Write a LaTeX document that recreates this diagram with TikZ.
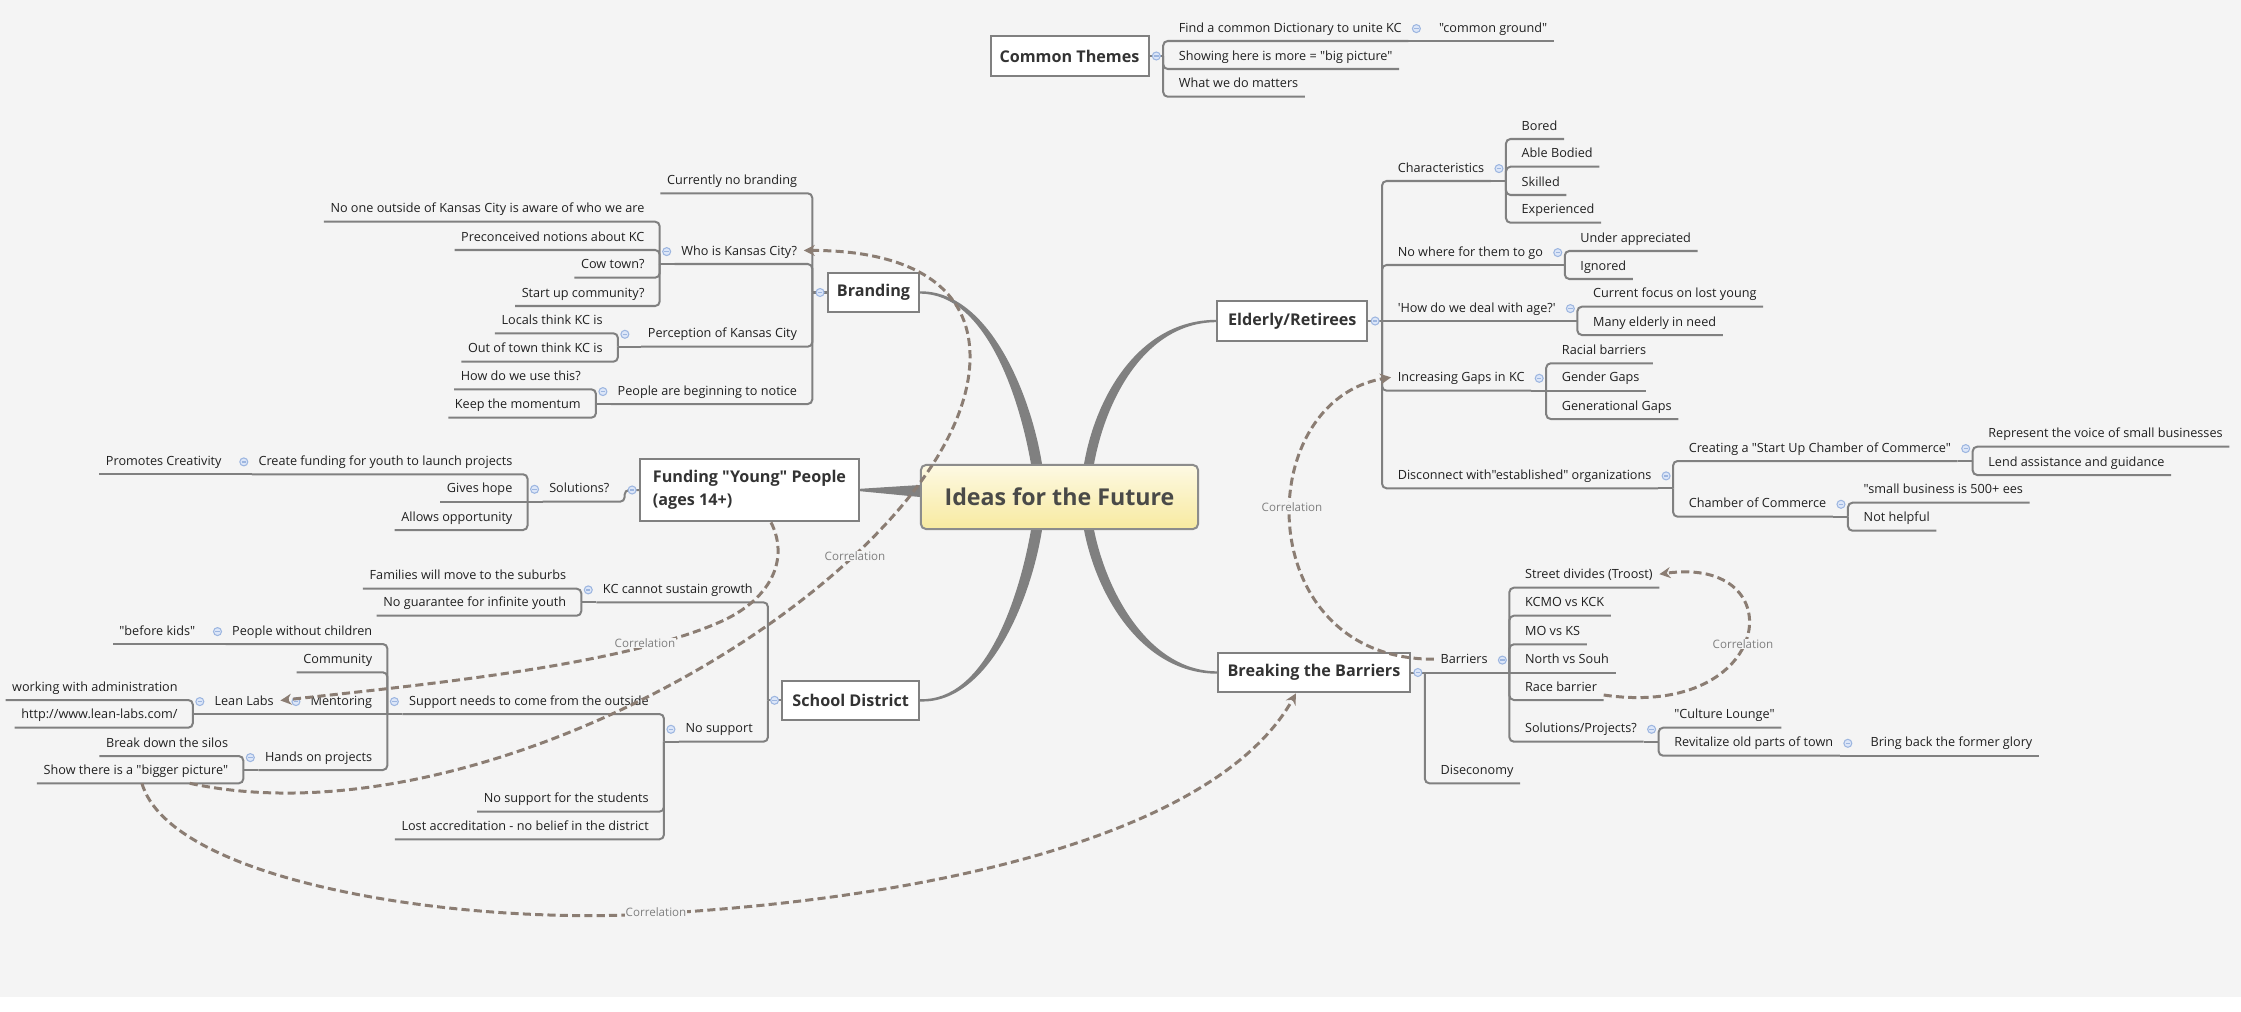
\documentclass[tikz,border=0pt]{standalone}
\usepackage{fontspec}
\newfontfamily\mapfont{Open Sans}
\usetikzlibrary{arrows.meta,backgrounds}

\definecolor{bg}{HTML}{F4F4F4}
\definecolor{linegray}{HTML}{808080}
\definecolor{ink}{HTML}{202020}
\definecolor{boxtext}{HTML}{333333}
\definecolor{relbrown}{HTML}{8B7D73}
\definecolor{labelgray}{HTML}{808080}
\definecolor{foldfill}{HTML}{DCE6F8}
\definecolor{foldline}{HTML}{9DB6E0}
\definecolor{ideatop}{HTML}{FDF9E3}
\definecolor{ideabot}{HTML}{F8EAA0}
\definecolor{ideaborder}{HTML}{8C8C8C}
\definecolor{ideatext}{HTML}{4A4A48}

\begin{document}
\begin{tikzpicture}[x=0.01cm, y=-0.01cm,
  every node/.style={font=\mapfont\fontsize{3.6}{4.3}\selectfont, text=ink},
  topic/.style={inner xsep=0.06cm, inner ysep=0.08cm, text depth=0pt},
  rtopic/.style={topic, anchor=south west, xshift=0.09cm},
  ltopic/.style={topic, anchor=south east, xshift=-0.085cm},
  mainbox/.style={draw=linegray, line width=0.57pt, fill=white, text=boxtext,
    font=\mapfont\bfseries\fontsize{4.6}{6.6}\selectfont, inner xsep=0.09cm, minimum height=0.39cm},
  idea/.style={draw=ideaborder, line width=0.57pt, rounded corners=0.05cm,
    top color=ideatop, bottom color=ideabot, text=ideatext,
    font=\mapfont\bfseries\fontsize{6.6}{8}\selectfont, minimum width=2.77cm, minimum height=0.64cm},
  fold/.style={circle, draw=foldline, line width=0.3pt, fill=foldfill, minimum size=0.08cm, inner sep=0pt,
    path picture={\draw[foldline, line width=0.35pt] ([xshift=-0.022cm]path picture bounding box.center) -- ([xshift=0.022cm]path picture bounding box.center);}},
  branch/.style={draw=linegray, line width=0.57pt, rounded corners=0.045cm},
  trunk/.style={fill=linegray},
  rel/.style={draw=relbrown, line width=0.85pt, dash pattern=on 2.3pt off 1.2pt, -{Stealth[length=0.11cm, width=0.11cm]}},
  corr/.style={font=\mapfont\fontsize{3.3}{4}\selectfont, text=labelgray, fill=bg, inner sep=0.01cm}]
  \useasboundingbox (0,0) rectangle (2241,1012);

  \node[idea] (idea) at (1059.5,497) {Ideas for the Future};
  \node[mainbox, minimum width=1.515cm] (themes) at (1069.5,56) {Common Themes};
  \node[mainbox, minimum width=0.91cm] (branding) at (873.5,292.5) {Branding};
  \node[mainbox, minimum width=2.19cm, minimum height=0.617cm, align=left] (funding) at (749.5,490) {Funding "Young" People\\(ages 14+)};
  \node[mainbox, minimum width=1.366cm] (school) at (850.7,700.3) {School District};
  \node[mainbox, minimum width=1.5cm] (elderly) at (1292.3,321) {Elderly/Retirees};
  \node[mainbox, minimum width=1.92cm] (breaking) at (1314,672.5) {Breaking the Barriers};

  \coordinate (themes-v) at ([xshift=0.137cm]themes.east);
  \coordinate (branding-v) at ([xshift=-0.146cm]branding.west);
  \coordinate (funding-v) at ([xshift=-0.143cm]funding.west);
  \coordinate (school-v) at ([xshift=-0.134cm]school.west);
  \coordinate (elderly-v) at ([xshift=0.137cm]elderly.east);
  \coordinate (breaking-v) at ([xshift=0.138cm]breaking.east);

  \node[rtopic] (cfind) at (themes-v |- 0,41) {Find a common Dictionary to unite KC};
  \coordinate (cfind-v) at ([xshift=0.15cm]cfind.south east);
  \node[rtopic] (cground) at (cfind-v) {"common ground"};
  \node[rtopic] (cshow) at (themes-v |- 0,69) {Showing here is more = "big picture"};
  \node[rtopic] (cwhat) at (themes-v |- 0,96.7) {What we do matters};

  \node[ltopic] (nobrand) at (branding-v |- 0,193.3) {Currently no branding};
  \node[ltopic] (whokc) at (branding-v |- 0,264) {Who is Kansas City?};
  \coordinate (whokc-v) at ([xshift=-0.15cm]whokc.south west);
  \node[ltopic] (noone) at (whokc-v |- 0,221.7) {No one outside of Kansas City is aware of who we are};
  \node[ltopic] (preconc) at (whokc-v |- 0,250) {Preconceived notions about KC};
  \node[ltopic] (cowtown) at (whokc-v |- 0,277.7) {Cow town?};
  \node[ltopic] (startup) at (whokc-v |- 0,306) {Start up community?};
  \node[ltopic] (percep) at (branding-v |- 0,346.7) {Perception of Kansas City};
  \coordinate (percep-v) at ([xshift=-0.233cm]percep.south west);
  \node[ltopic] (locals) at (percep-v |- 0,333.3) {Locals think KC is};
  \node[ltopic] (outtown) at (percep-v |- 0,361.7) {Out of town think KC is};
  \node[ltopic] (notice) at (branding-v |- 0,404) {People are beginning to notice};
  \coordinate (notice-v) at ([xshift=-0.15cm]notice.south west);
  \node[ltopic] (usethis) at (notice-v |- 0,389.3) {How do we use this?};
  \node[ltopic] (momentum) at (notice-v |- 0,417.7) {Keep the momentum};

  \node[ltopic] (solutions) at (funding-v |- 0,501.7) {Solutions?};
  \coordinate (solutions-v) at ([xshift=-0.15cm]solutions.south west);
  \node[ltopic] (createfund) at (solutions-v |- 0,474.3) {Create funding for youth to launch projects};
  \coordinate (createfund-v) at ([xshift=-0.15cm]createfund.south west);
  \node[ltopic] (promotes) at (createfund-v) {Promotes Creativity};
  \node[ltopic] (givehope) at (solutions-v |- 0,501.7) {Gives hope};
  \node[ltopic] (allowopp) at (solutions-v |- 0,530) {Allows opportunity};

  \node[ltopic] (sustain) at (school-v |- 0,602.3) {KC cannot sustain growth};
  \coordinate (sustain-v) at ([xshift=-0.15cm]sustain.south west);
  \node[ltopic] (suburbs) at (sustain-v |- 0,588.7) {Families will move to the suburbs};
  \node[ltopic] (infinite) at (sustain-v |- 0,615.7) {No guarantee for infinite youth};
  \node[ltopic] (nosupport) at (school-v |- 0,741.7) {No support};
  \coordinate (nosupport-v) at ([xshift=-0.15cm]nosupport.south west);
  \node[ltopic] (outside) at (nosupport-v |- 0,714) {Support needs to come from the outside};
  \coordinate (outside-v) at ([xshift=-0.15cm]outside.south west);
  \node[ltopic] (nokids) at (outside-v |- 0,644) {People without children};
  \coordinate (nokids-v) at ([xshift=-0.15cm]nokids.south west);
  \node[ltopic] (beforekids) at (nokids-v) {"before kids"};
  \node[ltopic] (community) at (outside-v |- 0,672.3) {Community};
  \node[ltopic] (mentoring) at (outside-v |- 0,714) {Mentoring};
  \coordinate (mentoring-v) at ([xshift=-0.15cm]mentoring.south west);
  \node[ltopic] (leanlabs) at (mentoring-v) {Lean Labs};
  \coordinate (leanlabs-v) at ([xshift=-0.15cm]leanlabs.south west);
  \node[ltopic] (admin) at (leanlabs-v |- 0,700) {working with administration};
  \node[ltopic] (leanurl) at (leanlabs-v |- 0,727.7) {http://www.lean-labs.com/};
  \node[ltopic] (handson) at (outside-v |- 0,770) {Hands on projects};
  \coordinate (handson-v) at ([xshift=-0.15cm]handson.south west);
  \node[ltopic] (silos) at (handson-v |- 0,756) {Break down the silos};
  \node[ltopic] (bigger) at (handson-v |- 0,783.3) {Show there is a "bigger picture"};
  \node[ltopic] (nostudents) at (nosupport-v |- 0,811.7) {No support for the students};
  \node[ltopic] (accredit) at (nosupport-v |- 0,839.3) {Lost accreditation - no belief in the district};

  \node[rtopic] (chars) at (elderly-v |- 0,181) {Characteristics};
  \coordinate (chars-v) at ([xshift=0.15cm]chars.south east);
  \node[rtopic] (bored) at (chars-v |- 0,139) {Bored};
  \node[rtopic] (able) at (chars-v |- 0,166.7) {Able Bodied};
  \node[rtopic] (skilled) at (chars-v |- 0,195) {Skilled};
  \node[rtopic] (exper) at (chars-v |- 0,222.7) {Experienced};
  \node[rtopic] (nowhere) at (elderly-v |- 0,265) {No where for them to go};
  \coordinate (nowhere-v) at ([xshift=0.15cm]nowhere.south east);
  \node[rtopic] (underapp) at (nowhere-v |- 0,251) {Under appreciated};
  \node[rtopic] (ignored) at (nowhere-v |- 0,279) {Ignored};
  \node[rtopic] (dealage) at (elderly-v |- 0,321) {'How do we deal with age?'};
  \coordinate (dealage-v) at ([xshift=0.15cm]dealage.south east);
  \node[rtopic] (lostyoung) at (dealage-v |- 0,306.7) {Current focus on lost young};
  \node[rtopic] (needy) at (dealage-v |- 0,335) {Many elderly in need};
  \node[rtopic] (gaps) at (elderly-v |- 0,390.7) {Increasing Gaps in KC};
  \coordinate (gaps-v) at ([xshift=0.15cm]gaps.south east);
  \node[rtopic] (racial) at (gaps-v |- 0,363.3) {Racial barriers};
  \node[rtopic] (gender) at (gaps-v |- 0,390.7) {Gender Gaps};
  \node[rtopic] (generation) at (gaps-v |- 0,419) {Generational Gaps};
  \node[rtopic] (disconnect) at (elderly-v |- 0,488.3) {Disconnect with"established" organizations};
  \coordinate (disconnect-v) at ([xshift=0.15cm]disconnect.south east);
  \node[rtopic] (startupcc) at (disconnect-v |- 0,461) {Creating a "Start Up Chamber of Commerce"};
  \coordinate (startupcc-v) at ([xshift=0.15cm]startupcc.south east);
  \node[rtopic] (voice) at (startupcc-v |- 0,446.7) {Represent the voice of small businesses};
  \node[rtopic] (lend) at (startupcc-v |- 0,475) {Lend assistance and guidance};
  \node[rtopic] (chamber) at (disconnect-v |- 0,516.7) {Chamber of Commerce};
  \coordinate (chamber-v) at ([xshift=0.15cm]chamber.south east);
  \node[rtopic] (smallbiz) at (chamber-v |- 0,502.7) {"small business is 500+ ees};
  \node[rtopic] (nothelp) at (chamber-v |- 0,530.7) {Not helpful};

  \node[rtopic] (barriers) at (breaking-v |- 0,672.5) {Barriers};
  \coordinate (barriers-v) at ([xshift=0.15cm]barriers.south east);
  \node[rtopic] (troost) at (barriers-v |- 0,587.7) {Street divides (Troost)};
  \node[rtopic] (kcmo) at (barriers-v |- 0,615.7) {KCMO vs KCK};
  \node[rtopic] (moks) at (barriers-v |- 0,644.3) {MO vs KS};
  \node[rtopic] (northsouth) at (barriers-v |- 0,672.5) {North vs Souh};
  \node[rtopic] (race) at (barriers-v |- 0,700) {Race barrier};
  \node[rtopic] (solproj) at (barriers-v |- 0,741.7) {Solutions/Projects?};
  \coordinate (solproj-v) at ([xshift=0.15cm]solproj.south east);
  \node[rtopic] (culture) at (solproj-v |- 0,727.7) {"Culture Lounge"};
  \node[rtopic] (revital) at (solproj-v |- 0,755.7) {Revitalize old parts of town};
  \coordinate (revital-v) at ([xshift=0.15cm]revital.south east);
  \node[rtopic] (glory) at (revital-v) {Bring back the former glory};
  \node[rtopic] (disecon) at (breaking-v |- 0,783.3) {Diseconomy};

  \foreach \k in {themes,elderly,breaking}
    \node[fold] (\k-fold) at ([xshift=0.068cm]\k.east) {};
  \foreach \k in {branding,funding,school}
    \node[fold] (\k-fold) at ([xshift=-0.068cm]\k.west) {};
  \foreach \k in {cfind,chars,nowhere,dealage,gaps,disconnect,startupcc,chamber,barriers,solproj,revital}
    \node[fold] (\k-fold) at ([shift={(-0.07cm,0.124cm)}]\k-v) {};
  \foreach \k in {whokc,percep,notice,solutions,createfund,sustain,nosupport,outside,nokids,mentoring,leanlabs,handson}
    \node[fold] (\k-fold) at ([shift={(0.07cm,0.124cm)}]\k-v) {};

  \begin{scope}[on background layer]
    \fill[white] (0,0) rectangle (2241,1012);
    \fill[bg] (0,0) rectangle (2241,997);

    \fill[trunk] ([xshift=-0.285cm]idea.north) .. controls (1019,395) and (985,293.5) .. ([yshift=-0.012cm]branding.east)
      -- ([yshift=0.012cm]branding.east) .. controls (989,290.5) and (1031,395) .. ([xshift=-0.175cm]idea.north) -- cycle;
    \fill[trunk] ([xshift=-0.285cm]idea.south) .. controls (1019,599) and (985,701.5) .. ([yshift=0.012cm]school.east)
      -- ([yshift=-0.012cm]school.east) .. controls (989,704) and (1031,599) .. ([xshift=-0.175cm]idea.south) -- cycle;
    \fill[trunk] ([xshift=0.245cm]idea.north) .. controls (1096,395) and (1140,320) .. ([yshift=0.012cm]elderly.west)
      -- ([yshift=-0.012cm]elderly.west) .. controls (1146,322.5) and (1106,398) .. ([xshift=0.345cm]idea.north) -- cycle;
    \fill[trunk] ([xshift=0.245cm]idea.south) .. controls (1098,602) and (1146,673.7) .. ([yshift=-0.012cm]breaking.west)
      -- ([yshift=0.012cm]breaking.west) .. controls (1152,671) and (1108,598) .. ([xshift=0.345cm]idea.south) -- cycle;
    \fill[trunk] ([yshift=0.012cm]funding.east) -- ([yshift=0.12cm]idea.west) -- (idea.west) -- ([yshift=-0.012cm]funding.east) -- cycle;

    \draw[branch] (themes.east) -- (themes-v);
    \foreach \k in {cfind,cshow,cwhat} \draw[branch] (themes-v) |- (\k.south east);
    \draw[branch] (cfind.south east) -- (cground.south east);

    \draw[branch] (elderly.east) -- (elderly-v) -- (dealage.south east);
    \foreach \k in {chars,nowhere,gaps,disconnect} \draw[branch] (elderly-v) |- (\k.south east);
    \draw[branch] (chars.south east) -- (chars-v);
    \foreach \k in {bored,able,skilled,exper} \draw[branch] (chars-v) |- (\k.south east);
    \draw[branch] (nowhere.south east) -- (nowhere-v);
    \foreach \k in {underapp,ignored} \draw[branch] (nowhere-v) |- (\k.south east);
    \draw[branch] (dealage.south east) -- (dealage-v);
    \foreach \k in {lostyoung,needy} \draw[branch] (dealage-v) |- (\k.south east);
    \draw[branch] (gaps.south east) -- (gaps-v) -- (gender.south east);
    \foreach \k in {racial,generation} \draw[branch] (gaps-v) |- (\k.south east);
    \draw[branch] (disconnect.south east) -- (disconnect-v);
    \foreach \k in {startupcc,chamber} \draw[branch] (disconnect-v) |- (\k.south east);
    \draw[branch] (startupcc.south east) -- (startupcc-v);
    \foreach \k in {voice,lend} \draw[branch] (startupcc-v) |- (\k.south east);
    \draw[branch] (chamber.south east) -- (chamber-v);
    \foreach \k in {smallbiz,nothelp} \draw[branch] (chamber-v) |- (\k.south east);

    \draw[branch] (breaking.east) -- (breaking-v) -- (barriers.south east);
    \draw[branch] (breaking-v) |- (disecon.south east);
    \draw[branch] (barriers.south east) -- (barriers-v) -- (northsouth.south east);
    \foreach \k in {troost,kcmo,moks,race,solproj} \draw[branch] (barriers-v) |- (\k.south east);
    \draw[branch] (solproj.south east) -- (solproj-v);
    \foreach \k in {culture,revital} \draw[branch] (solproj-v) |- (\k.south east);
    \draw[branch] (revital.south east) -- (glory.south east);

    \draw[branch] (branding.west) -- (branding-v);
    \foreach \k in {nobrand,whokc,percep,notice} \draw[branch] (branding-v) |- (\k.south west);
    \draw[branch] (whokc.south west) -- (whokc-v);
    \foreach \k in {noone,preconc,cowtown,startup} \draw[branch] (whokc-v) |- (\k.south west);
    \draw[branch] (percep.south west) -- (percep-v);
    \foreach \k in {locals,outtown} \draw[branch] (percep-v) |- (\k.south west);
    \draw[branch] (notice.south west) -- (notice-v);
    \foreach \k in {usethis,momentum} \draw[branch] (notice-v) |- (\k.south west);

    \draw[branch] (funding.west) -- (funding-v) |- (solutions.south west);
    \draw[branch] (solutions.south west) -- (solutions-v) -- (givehope.south west);
    \foreach \k in {createfund,allowopp} \draw[branch] (solutions-v) |- (\k.south west);
    \draw[branch] (createfund.south west) -- (promotes.south west);

    \draw[branch] (school.west) -- (school-v);
    \foreach \k in {sustain,nosupport} \draw[branch] (school-v) |- (\k.south west);
    \draw[branch] (sustain.south west) -- (sustain-v);
    \foreach \k in {suburbs,infinite} \draw[branch] (sustain-v) |- (\k.south west);
    \draw[branch] (nosupport.south west) -- (nosupport-v);
    \foreach \k in {outside,nostudents,accredit} \draw[branch] (nosupport-v) |- (\k.south west);
    \draw[branch] (outside.south west) -- (outside-v) -- (mentoring.south west);
    \foreach \k in {nokids,community,handson} \draw[branch] (outside-v) |- (\k.south west);
    \draw[branch] (nokids.south west) -- (beforekids.south west);
    \draw[branch] (mentoring.south west) -- (leanlabs.south west) -- (leanlabs-v);
    \foreach \k in {admin,leanurl} \draw[branch] (leanlabs-v) |- (\k.south west);
    \draw[branch] (handson.south west) -- (handson-v);
    \foreach \k in {silos,bigger} \draw[branch] (handson-v) |- (\k.south west);
  \end{scope}

  \draw[rel] ([xshift=0.215cm]funding.south) .. controls (790,560) and (770,600) .. (720,622)
    .. controls (620,666) and (420,685) .. (leanlabs.east);
  \node[corr] (corr1) at (645,643) {Correlation};
  \draw[rel] ([xshift=-0.45cm]bigger.south east) .. controls (500,850) and (965,560) .. (970,360)
    .. controls (972,280) and (900,250) .. (whokc.east);
  \node[corr] (corr2) at (855,556) {Correlation};
  \draw[rel] ([xshift=0.06cm]bigger.south) .. controls (170,880) and (450,925) .. (650,914)
    .. controls (950,897.5) and (1220,830) .. ([xshift=-0.18cm]breaking.south);
  \node[corr] (corr3) at (656,912) {Correlation};
  \draw[rel] (barriers.west) .. controls (1250,660) and (1250,400) .. (gaps.west);
  \node[corr] (corr4) at (1292,507) {Correlation};
  \draw[rel] ([yshift=0.05cm]race.south east) .. controls (1775,720) and (1795,555) .. (troost.east);
  \node[corr] (corr5) at (1743,644) {Correlation};
\end{tikzpicture}
\end{document}
